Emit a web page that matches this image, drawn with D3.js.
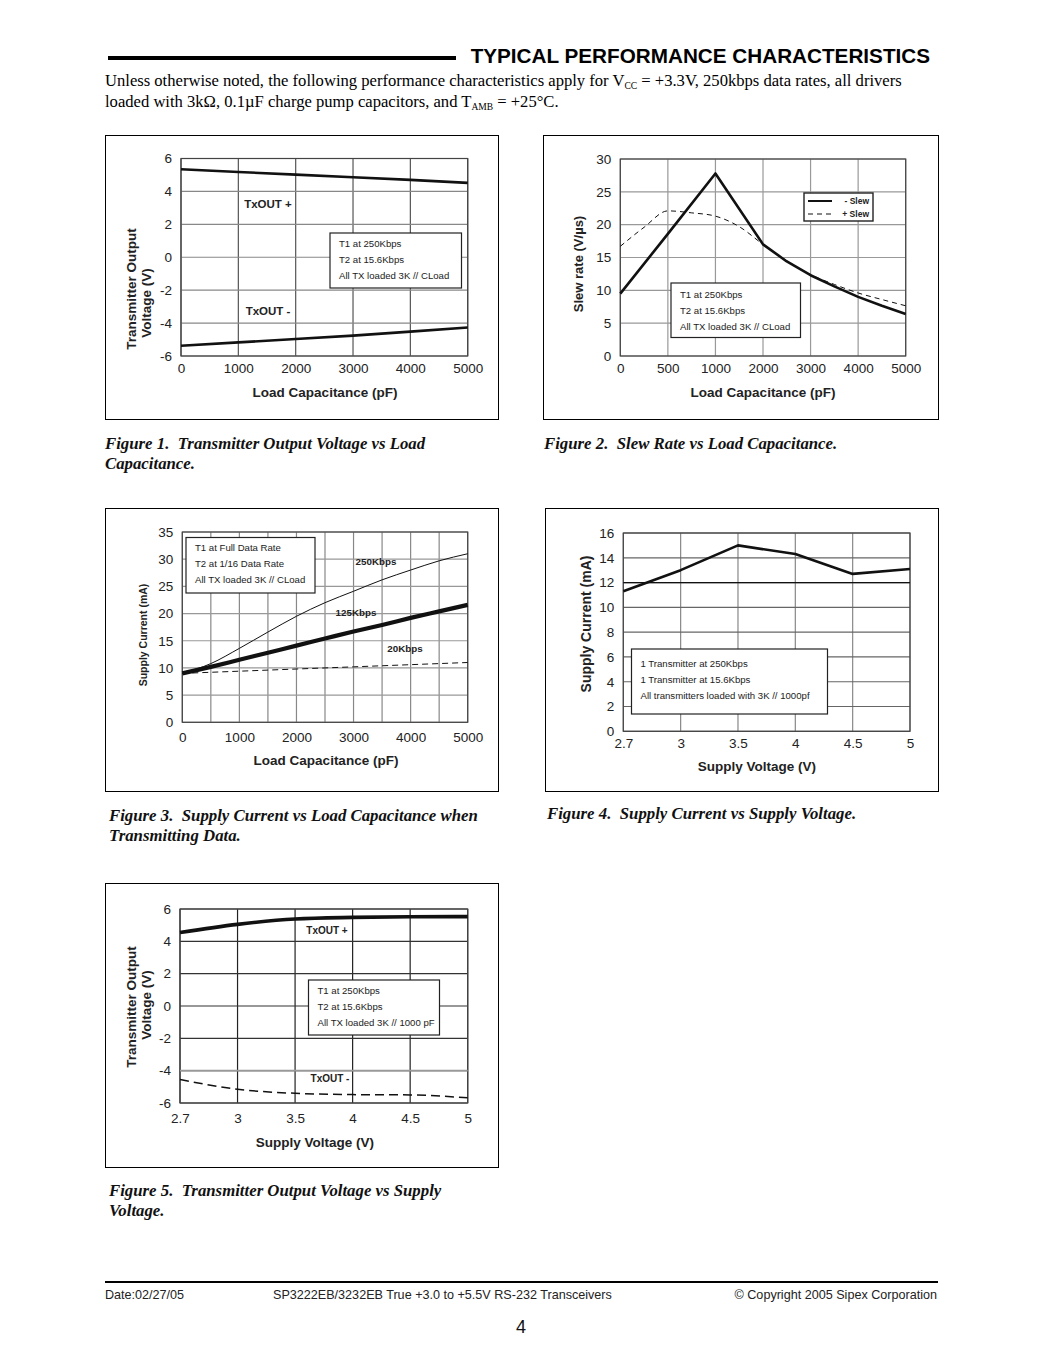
<!DOCTYPE html>
<html><head><meta charset="utf-8">
<script src="https://cdn.jsdelivr.net/npm/d3@7"></script>
<style>body{margin:0;background:#fff}svg{display:block}text{white-space:pre}</style>
</head><body><svg id="page" width="1050" height="1350"></svg>
<script>
// ---------- DATA ----------
// Figure 1
const fig1XTicks = [0, 1000, 2000, 3000, 4000, 5000];
const fig1YTicks = [6, 4, 2, 0, -2, -4, -6];
const fig1Cap = [0, 1000, 2000, 3000, 4000, 5000];
const fig1TxPlus = [5.35, 5.18, 5.02, 4.86, 4.70, 4.52];
const fig1TxMinus = [-5.38, -5.17, -4.97, -4.76, -4.52, -4.27];
const fig1Note = ["T1 at 250Kbps", "T2 at 15.6Kbps", "All TX loaded 3K // CLoad"];
// Figure 2
const fig2XTicks = [0, 500, 1000, 2000, 3000, 4000, 5000];
const fig2YTicks = [0, 5, 10, 15, 20, 25, 30];
const fig2MinusCap = [0, 500, 1000, 2000, 2500, 3000, 3500, 4000, 4500, 5000];
const fig2MinusSlew = [9.5, 18.6, 27.8, 17.0, 14.4, 12.3, 10.6, 9.0, 7.65, 6.4];
const fig2PlusCap = [0, 250, 500, 750, 1000, 1500, 2000, 2500, 3000, 3500, 4000, 4500, 5000];
const fig2PlusSlew = [16.7, 19.6, 22.1, 21.8, 21.3, 19.7, 17.0, 14.5, 12.4, 10.9, 9.6, 8.6, 7.65];
const fig2Series = ["- Slew", "+ Slew"];
const fig2Note = ["T1 at 250Kbps", "T2 at 15.6Kbps", "All TX loaded 3K // CLoad"];
// Figure 3
const fig3XTicks = [0, 1000, 2000, 3000, 4000, 5000];
const fig3YTicks = [0, 5, 10, 15, 20, 25, 30, 35];
const fig3Cap = [0, 500, 1000, 1500, 2000, 2500, 3000, 3500, 4000, 4500, 5000];
const fig3Rate250 = [9.0, 10.8, 13.6, 16.6, 19.5, 22.0, 24.1, 26.2, 28.0, 29.7, 31.0];
const fig3Rate125 = [9.0, 10.2, 11.5, 12.8, 14.1, 15.4, 16.7, 17.9, 19.2, 20.4, 21.6];
const fig3Rate20 = [9.0, 9.2, 9.4, 9.6, 9.8, 10.0, 10.2, 10.4, 10.6, 10.8, 11.0];
const fig3Labels = ["250Kbps", "125Kbps", "20Kbps"];
const fig3Note = ["T1 at Full Data Rate", "T2 at 1/16 Data Rate", "All TX loaded 3K // CLoad"];
// Figure 4
const fig4XTicks = ["2.7", "3", "3.5", "4", "4.5", "5"];
const fig4YTicks = [0, 2, 4, 6, 8, 10, 12, 14, 16];
const fig4Current = [11.3, 13.0, 15.0, 14.3, 12.7, 13.1];
const fig4Note = ["1 Transmitter at 250Kbps", "1 Transmitter at 15.6Kbps", "All transmitters loaded with 3K // 1000pf"];
// Figure 5
const fig5XTicks = ["2.7", "3", "3.5", "4", "4.5", "5"];
const fig5YTicks = [6, 4, 2, 0, -2, -4, -6];
const fig5TxPlus = [4.55, 5.05, 5.38, 5.48, 5.52, 5.53];
const fig5TxMinus = [-4.55, -5.15, -5.4, -5.48, -5.5, -5.68];
const fig5Note = ["T1 at 250Kbps", "T2 at 15.6Kbps", "All TX loaded 3K // 1000 pF"];

// ---------- DRAWING ----------
const svg = d3.select("#page");
const SANS = "'Liberation Sans', Arial, sans-serif";
const SERIF = "'Liberation Serif', 'Times New Roman', serif";
const fmt = d => String(d);

// Header
svg.append("line").attr("x1", 108).attr("x2", 456).attr("y1", 58).attr("y2", 58)
  .attr("stroke", "#000").attr("stroke-width", 4);
svg.append("text").attr("x", 930).attr("y", 63).attr("text-anchor", "end")
  .attr("font-family", SANS).attr("font-weight", "bold").attr("font-size", 20.7)
  .text("TYPICAL PERFORMANCE CHARACTERISTICS");
const p1 = svg.append("text").attr("x", 105).attr("y", 86).attr("font-family", SERIF).attr("font-size", 16.6);
p1.append("tspan").text("Unless otherwise noted, the following performance characteristics apply for V");
p1.append("tspan").attr("font-size", 9.5).attr("dy", 3).text("CC");
p1.append("tspan").attr("dy", -3).text(" = +3.3V, 250kbps data rates, all drivers");
const p2 = svg.append("text").attr("x", 105).attr("y", 107).attr("font-family", SERIF).attr("font-size", 16.6);
p2.append("tspan").text("loaded with 3kΩ, 0.1µF charge pump capacitors, and T");
p2.append("tspan").attr("font-size", 9.5).attr("dy", 3).text("AMB");
p2.append("tspan").attr("dy", -3).text(" = +25°C.");

function frame(b) {
  svg.append("rect").attr("x", b.x + 0.5).attr("y", b.y + 0.5).attr("width", b.w).attr("height", b.h)
    .attr("fill", "none").attr("stroke", "#000").attr("stroke-width", 1);
}
function grid(p, xPos, yPos, vCol, hCol) {
  const g = svg.append("g");
  xPos.forEach(x => g.append("line").attr("x1", x).attr("x2", x).attr("y1", p.t).attr("y2", p.b)
    .attr("stroke", vCol).attr("stroke-width", 1.2));
  yPos.forEach(y => g.append("line").attr("x1", p.l).attr("x2", p.r).attr("y1", y).attr("y2", y)
    .attr("stroke", hCol).attr("stroke-width", 1.2));
  g.append("rect").attr("x", p.l).attr("y", p.t).attr("width", p.r - p.l).attr("height", p.b - p.t)
    .attr("fill", "none").attr("stroke", "#444").attr("stroke-width", 1.2);
}
function axes(p, x, y, xTicks, yTicks, xDy, fs) {
  const gx = svg.append("g").attr("transform", `translate(0,${p.b})`)
    .call(d3.axisBottom(x).tickValues(xTicks).tickFormat(fmt).tickSize(0).tickPadding(xDy));
  const gy = svg.append("g").attr("transform", `translate(${p.l},0)`)
    .call(d3.axisLeft(y).tickValues(yTicks).tickFormat(fmt).tickSize(0).tickPadding(9));
  [gx, gy].forEach(g => {
    g.select(".domain").remove();
    g.selectAll("text").attr("font-family", SANS).attr("font-size", fs || 13.5).attr("fill", "#222");
  });
}
function xTitle(txt, cx, cy, fs) {
  svg.append("text").attr("x", cx).attr("y", cy).attr("dy", "0.35em").attr("text-anchor", "middle")
    .attr("font-family", SANS).attr("font-weight", "bold").attr("font-size", fs || 13.5).attr("fill", "#222").text(txt);
}
function yTitle(txt, cx, cy, fs) {
  svg.append("text").attr("transform", `translate(${cx},${cy}) rotate(-90)`).attr("dy", "0.35em")
    .attr("text-anchor", "middle").attr("font-family", SANS).attr("font-weight", "bold")
    .attr("font-size", fs || 13.5).attr("fill", "#222").text(txt);
}
function note(lines, x0, y0, x1, y1, firstY, step) {
  svg.append("rect").attr("x", x0).attr("y", y0).attr("width", x1 - x0).attr("height", y1 - y0)
    .attr("fill", "#fff").attr("stroke", "#222").attr("stroke-width", 1.2);
  lines.forEach((t, i) => svg.append("text").attr("x", x0 + 9).attr("y", firstY + i * step).attr("dy", "0.35em")
    .attr("font-family", SANS).attr("font-size", 9.6).attr("fill", "#222").text(t));
}
function label(txt, x, y, fs) {
  svg.append("text").attr("x", x).attr("y", y).attr("dy", "0.35em").attr("text-anchor", "middle")
    .attr("font-family", SANS).attr("font-weight", "bold").attr("font-size", fs).attr("fill", "#222").text(txt);
}
function caption(lines, x, y) {
  lines.forEach((t, i) => svg.append("text").attr("x", x).attr("y", y + i * 20).attr("dy", "0.35em")
    .attr("font-family", SERIF).attr("font-weight", "bold").attr("font-style", "italic")
    .attr("font-size", 16.8).attr("fill", "#111").text(t));
}
function path(data, x, y, curve, w, dash) {
  svg.append("path").datum(data)
    .attr("d", d3.line().x(d => x(d[0])).y(d => y(d[1])).curve(curve))
    .attr("fill", "none").attr("stroke", "#111").attr("stroke-width", w)
    .attr("stroke-dasharray", dash || null).attr("stroke-linejoin", "round");
}
const zip = (a, b) => a.map((v, i) => [v, b[i]]);

// ---------- Figure 1 ----------
{
  frame({x: 105, y: 135, w: 393, h: 284});
  const p = {l: 181, r: 467.7, t: 158.5, b: 356};
  const x = d3.scaleLinear().domain([0, 5000]).range([p.l, p.r]);
  const y = d3.scaleLinear().domain([-6, 6]).range([p.b, p.t]);
  grid(p, fig1XTicks.map(x), fig1YTicks.map(y), "#555", "#888");
  axes(p, x, y, fig1XTicks, fig1YTicks, 7);
  path(zip(fig1Cap, fig1TxPlus), x, y, d3.curveLinear, 2.6);
  path(zip(fig1Cap, fig1TxMinus), x, y, d3.curveLinear, 2.6);
  label("TxOUT +", 268, 204, 11.5);
  label("TxOUT -", 268, 311, 11.5);
  note(fig1Note, 330, 233, 461.5, 288, 244, 16);
  xTitle("Load Capacitance (pF)", 325, 392);
  yTitle("Transmitter Output", 131, 289);
  yTitle("Voltage (V)", 146, 303);
  caption(["Figure 1.  Transmitter Output Voltage vs Load", "Capacitance."], 105, 443);
}
// ---------- Figure 2 ----------
{
  frame({x: 543, y: 135, w: 395, h: 284});
  const p = {l: 620.3, r: 905.7, t: 159, b: 356};
  const x = d3.scaleLinear().domain(fig2XTicks)
    .range(fig2XTicks.map((d, i) => p.l + i * (p.r - p.l) / (fig2XTicks.length - 1)));
  const y = d3.scaleLinear().domain([0, 30]).range([p.b, p.t]);
  grid(p, fig2XTicks.map(x), fig2YTicks.map(y), "#999", "#999");
  axes(p, x, y, fig2XTicks, fig2YTicks, 7);
  path(zip(fig2PlusCap, fig2PlusSlew), x, y, d3.curveMonotoneX, 1, "5,4");
  path(zip(fig2MinusCap, fig2MinusSlew), x, y, d3.curveLinear, 2.6);
  svg.append("rect").attr("x", 804).attr("y", 193).attr("width", 69).attr("height", 28)
    .attr("fill", "#fff").attr("stroke", "#222").attr("stroke-width", 1.4);
  svg.append("line").attr("x1", 808).attr("x2", 832).attr("y1", 201).attr("y2", 201).attr("stroke", "#111").attr("stroke-width", 2);
  svg.append("line").attr("x1", 808).attr("x2", 832).attr("y1", 214).attr("y2", 214).attr("stroke", "#111").attr("stroke-width", 1).attr("stroke-dasharray", "5,4");
  fig2Series.forEach((s, i) => svg.append("text").attr("x", 869).attr("y", 201 + i * 13).attr("dy", "0.35em")
    .attr("text-anchor", "end").attr("font-family", SANS).attr("font-weight", "bold").attr("font-size", 8.5).attr("fill", "#222").text(s));
  note(fig2Note, 671, 283, 800.5, 337.5, 294.5, 16);
  xTitle("Load Capacitance (pF)", 763, 392);
  yTitle("Slew rate (V/µs)", 578, 264, 13);
  caption(["Figure 2.  Slew Rate vs Load Capacitance."], 544, 443);
}
// ---------- Figure 3 ----------
{
  frame({x: 105, y: 508, w: 393, h: 283});
  const p = {l: 182.3, r: 467.7, t: 532, b: 722.3};
  const x = d3.scaleLinear().domain([0, 5000]).range([p.l, p.r]);
  const y = d3.scaleLinear().domain([0, 35]).range([p.b, p.t]);
  grid(p, fig3Cap.map(x), fig3YTicks.map(y), "#888", "#999");
  axes(p, x, y, fig3XTicks, fig3YTicks, 10);
  path(zip(fig3Cap, fig3Rate20), x, y, d3.curveMonotoneX, 1, "6,4");
  path(zip(fig3Cap, fig3Rate250), x, y, d3.curveMonotoneX, 1);
  path(zip(fig3Cap, fig3Rate125), x, y, d3.curveMonotoneX, 4.2);
  label(fig3Labels[0], 376, 562, 9.8);
  label(fig3Labels[1], 356, 613, 9.8);
  label(fig3Labels[2], 405, 649, 9.8);
  note(fig3Note, 186, 537.5, 315, 593, 548, 16);
  xTitle("Load Capacitance (pF)", 326, 760);
  yTitle("Supply Current (mA)", 143, 635, 10.5);
  caption(["Figure 3.  Supply Current vs Load Capacitance when", "Transmitting Data."], 109, 815);
}
// ---------- Figure 4 ----------
{
  frame({x: 545, y: 508, w: 393, h: 283});
  const p = {l: 623.3, r: 910, t: 533, b: 731.3};
  const x = d3.scalePoint().domain(fig4XTicks).range([p.l, p.r]);
  const y = d3.scaleLinear().domain([0, 16]).range([p.b, p.t]);
  grid(p, fig4XTicks.map(x), fig4YTicks.map(y), "#888", "#666");
  svg.append("line").attr("x1", p.l).attr("x2", p.r).attr("y1", y(12)).attr("y2", y(12)).attr("stroke", "#111").attr("stroke-width", 1.2);
  axes(p, x, y, fig4XTicks, fig4YTicks, 7);
  path(zip(fig4XTicks, fig4Current), x, y, d3.curveLinear, 2.6);
  note(fig4Note, 631.5, 649, 827.5, 714, 664, 16);
  xTitle("Supply Voltage (V)", 757, 766);
  yTitle("Supply Current (mA)", 586, 624, 14);
  caption(["Figure 4.  Supply Current vs Supply Voltage."], 547, 813);
}
// ---------- Figure 5 ----------
{
  frame({x: 105, y: 883, w: 393, h: 284});
  const p = {l: 180, r: 467.7, t: 909, b: 1103};
  const x = d3.scalePoint().domain(fig5XTicks).range([p.l, p.r]);
  const y = d3.scaleLinear().domain([-6, 6]).range([p.b, p.t]);
  grid(p, fig5XTicks.map(x), fig5YTicks.map(y), "#222", "#333");
  svg.append("line").attr("x1", p.l).attr("x2", p.r).attr("y1", y(-4)).attr("y2", y(-4)).attr("stroke", "#999").attr("stroke-width", 1.6);
  axes(p, x, y, fig5XTicks, fig5YTicks, 10);
  path(zip(fig5XTicks, fig5TxPlus), x, y, d3.curveMonotoneX, 3.6);
  path(zip(fig5XTicks, fig5TxMinus), x, y, d3.curveMonotoneX, 1.5, "9,5");
  label("TxOUT +", 327, 930, 10);
  label("TxOUT -", 330, 1078, 10);
  note(fig5Note, 308.5, 980, 439.5, 1035, 991, 16);
  xTitle("Supply Voltage (V)", 315, 1142);
  yTitle("Transmitter Output", 131, 1007);
  yTitle("Voltage (V)", 146, 1005);
  caption(["Figure 5.  Transmitter Output Voltage vs Supply", "Voltage."], 109, 1190);
}

// Footer
svg.append("line").attr("x1", 105).attr("x2", 938).attr("y1", 1282).attr("y2", 1282).attr("stroke", "#000").attr("stroke-width", 2);
const foot = (t, x, anchor) => svg.append("text").attr("x", x).attr("y", 1295).attr("dy", "0.35em")
  .attr("text-anchor", anchor).attr("font-family", SANS).attr("font-size", 12.6).attr("fill", "#222").text(t);
foot("Date:02/27/05", 105, "start");
foot("SP3222EB/3232EB True +3.0 to +5.5V RS-232 Transceivers", 273, "start");
foot("© Copyright 2005 Sipex Corporation", 937, "end");
svg.append("text").attr("x", 521).attr("y", 1327).attr("dy", "0.35em").attr("text-anchor", "middle")
  .attr("font-family", SANS).attr("font-size", 18).attr("fill", "#111").text("4");
</script></body></html>
